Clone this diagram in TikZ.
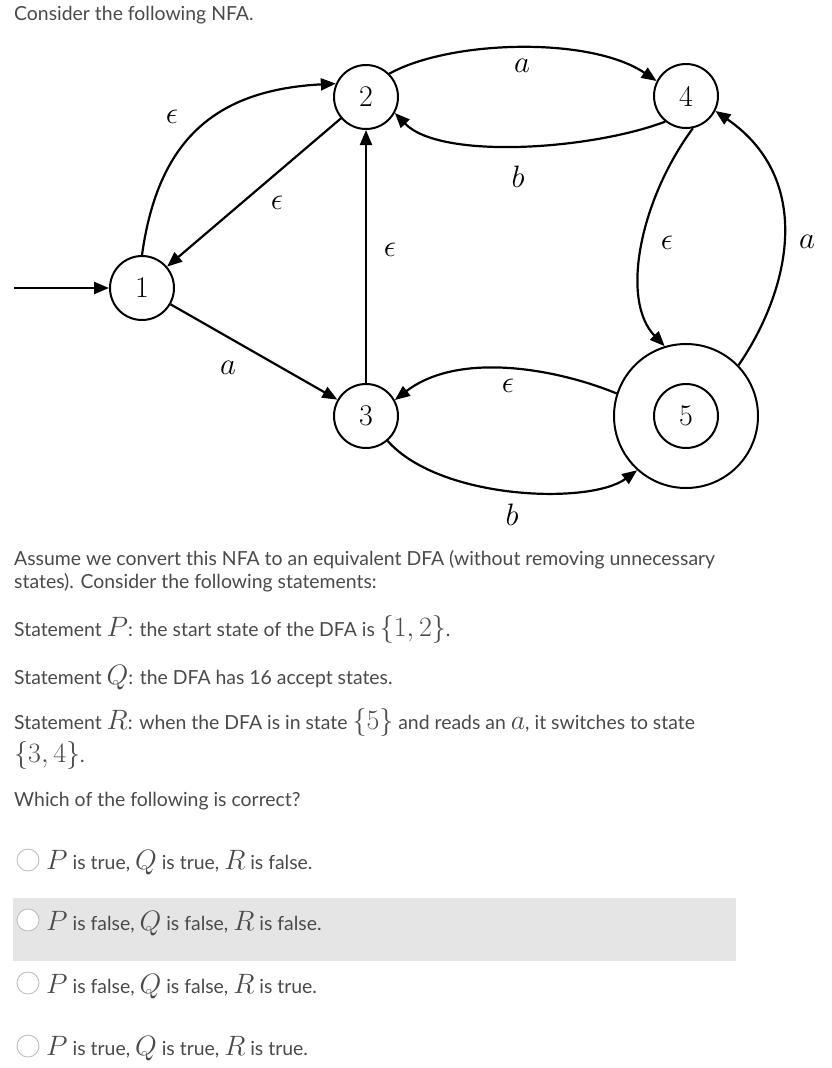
\RequirePackage{fix-cm}
\documentclass[tikz,border=0pt]{standalone}
\usepackage{fontspec}
\newfontfamily\lato{Lato}
\usetikzlibrary{arrows.meta}
\definecolor{txt}{HTML}{4A4A4A}
\definecolor{hl}{HTML}{E5E5E5}
\newcommand\mth[1]{{\fontsize{28}{30}\selectfont$#1$}}
\begin{document}
\begin{tikzpicture}[x=1pt,y=-1pt,
  state/.style={circle, draw, line width=2pt, minimum size=64pt, inner sep=0pt, font=\fontsize{30}{30}\selectfont},
  edge/.style={line width=2.2pt, -{Triangle[length=15pt,width=12pt]}},
  lbl/.style={inner sep=0pt, font=\fontsize{31}{31}\selectfont},
  txtline/.style={anchor=base west, inner sep=0pt, text=txt, font=\lato\fontsize{19.4}{23}\selectfont},
  radio/.style={circle, draw=gray!55, fill=white, line width=0.8pt, minimum size=22pt, inner sep=0pt}]
\useasboundingbox[fill=white] (0,0) rectangle (831,1068);

% title
\node[txtline] (t0) at (14,20) {Consider the following NFA.};

% states
\node[state] (n1) at (142,288) {1};
\node[state] (n2) at (366,97) {2};
\node[state] (n3) at (366,416) {3};
\node[state] (n4) at (686,96) {4};
\node[state, minimum size=144pt] (n5) at (686,416) {};
\node[state] (n5in) at (n5.center) {5};
\coordinate (start) at (14,288);

% transitions
\draw[edge] (start) -- (n1);
\draw[edge] (n1.90) .. controls (158,140) and (215,90) .. (n2.156);
\draw[edge] (n2) -- (n1);
\draw[edge] (n3) -- (n2);
\draw[edge] (n1) -- (n3);
\draw[edge] (n2.45) .. controls (450,40) and (590,36) .. (n4.153);
\draw[edge] (n4.231) .. controls (590,150) and (440,160) .. (n2.331);
\draw[edge] (n4.282) .. controls (640,200) and (620,300) .. (n5.107);
\draw[edge] (n5.44) .. controls (790,290) and (815,180) .. (n4.333);
\draw[edge] (n5.162) .. controls (560,370) and (460,350) .. (n3.29);
\draw[edge] (n3.311) .. controls (440,500) and (590,505) .. (n5.228);

% labels
\node[lbl] (l12) at (172,117) {$\epsilon$};
\node[lbl] (l21) at (277,203) {$\epsilon$};
\node[lbl] (l32) at (390,250) {$\epsilon$};
\node[lbl] (l13) at (228,368) {$a$};
\node[lbl] (l24) at (522,66) {$a$};
\node[lbl] (l42) at (518,177) {$b$};
\node[lbl] (l45) at (667,243) {$\epsilon$};
\node[lbl] (l54) at (807,242) {$a$};
\node[lbl] (l53) at (508,386) {$\epsilon$};
\node[lbl] (l35) at (512,515) {$b$};

% question text
\node[txtline] (t1) at (14,565) {Assume we convert this NFA to an equivalent DFA (without removing unnecessary};
\node[txtline] (t2) at (14,588) {states). Consider the following statements:};
\node[txtline] (t3) at (14,636) {Statement \mth{P}: the start state of the DFA is \mth{\{1,2\}}.};
\node[txtline] (t4) at (14,684) {Statement \mth{Q}: the DFA has 16 accept states.};
\node[txtline] (t5) at (14,729) {Statement \mth{R}: when the DFA is in state \mth{\{5\}} and reads an \mth{a}, it switches to state};
\node[txtline] (t6) at (14,762) {\mth{\{3,4\}}.};
\node[txtline] (t7) at (14,806) {Which of the following is correct?};

% options
\fill[hl] (13,898) rectangle (736,961);
\node[radio] (r1) at (28,860) {};
\node[radio] (r2) at (28,920) {};
\node[radio] (r3) at (28,983) {};
\node[radio] (r4) at (28,1046) {};
\node[txtline] (o1) at (46,869) {\mth{P} is true, \mth{Q} is true, \mth{R} is false.};
\node[txtline] (o2) at (46,930) {\mth{P} is false, \mth{Q} is false, \mth{R} is false.};
\node[txtline] (o3) at (46,993) {\mth{P} is false, \mth{Q} is false, \mth{R} is true.};
\node[txtline] (o4) at (46,1055) {\mth{P} is true, \mth{Q} is true, \mth{R} is true.};
\end{tikzpicture}
\end{document}
